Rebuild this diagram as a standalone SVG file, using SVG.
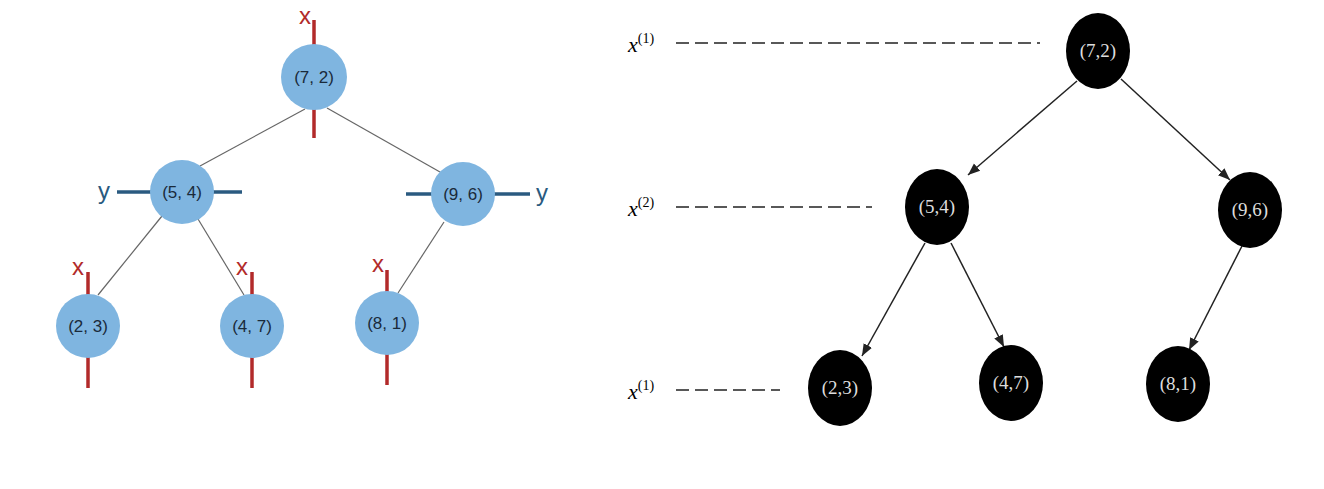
<svg xmlns="http://www.w3.org/2000/svg" width="1324" height="489" viewBox="0 0 1324 489">
<style>
.b{fill:#7fb5e0}
.bt{font-family:"Liberation Sans",Arial,sans-serif;font-size:17px;fill:#1a2a3a;text-anchor:middle}
.r{stroke:#b22a2a;stroke-width:3.5}
.rl{font-family:"Liberation Sans",Arial,sans-serif;font-size:24px;fill:#b22a2a;text-anchor:middle}
.yl{font-family:"Liberation Sans",Arial,sans-serif;font-size:24px;fill:#2a5a80;text-anchor:middle}
.bl{stroke:#2a5a80;stroke-width:3.5}
.e{stroke:#666;stroke-width:1.2}
.k{fill:#000}
.kt{font-family:"Liberation Serif","Times New Roman",serif;font-size:19px;fill:#ddd;text-anchor:middle}
.a{stroke:#222;stroke-width:1.5;fill:none;marker-end:url(#ar)}
.d{stroke:#222;stroke-width:1.5;stroke-dasharray:13,6}
.xl{font-family:"Liberation Serif","Times New Roman",serif;font-size:22px;font-style:italic;fill:#000}
.sup{font-family:"Liberation Serif","Times New Roman",serif;font-size:14px;font-style:normal;fill:#000}
</style>
<defs><marker id="ar" viewBox="0 0 10 10" refX="10" refY="5" markerWidth="8" markerHeight="8" orient="auto"><path d="M0,1 L10,5 L0,9 z" fill="#222"/></marker></defs>
<g id="connectors">
<line class="e" x1="305" y1="109" x2="200" y2="166"/>
<line class="e" x1="327" y1="108" x2="440" y2="172"/>
<line class="e" x1="162" y1="216" x2="98" y2="295"/>
<line class="e" x1="198" y1="219" x2="244" y2="295"/>
<line class="e" x1="444" y1="222" x2="398" y2="293"/>
<line class="r" x1="314" y1="20" x2="314" y2="46"/>
<line class="r" x1="314" y1="108" x2="314" y2="138"/>
<line class="bl" x1="117" y1="192" x2="152" y2="192"/>
<line class="bl" x1="212" y1="192" x2="242" y2="192"/>
<line class="bl" x1="406" y1="194" x2="432" y2="194"/>
<line class="bl" x1="494" y1="194" x2="530" y2="194"/>
<line class="r" x1="88" y1="272" x2="88" y2="295"/>
<line class="r" x1="88" y1="357" x2="88" y2="388"/>
<line class="r" x1="252" y1="272" x2="252" y2="295"/>
<line class="r" x1="252" y1="357" x2="252" y2="388"/>
<line class="r" x1="387" y1="270" x2="387" y2="292"/>
<line class="r" x1="387" y1="354" x2="387" y2="385"/>
<line class="a" x1="1077" y1="81" x2="968" y2="175"/>
<line class="a" x1="1121" y1="79" x2="1230" y2="180"/>
<line class="a" x1="925" y1="243" x2="862" y2="356"/>
<line class="a" x1="951" y1="243" x2="1004" y2="347"/>
<line class="a" x1="1242" y1="246" x2="1189" y2="350"/>
<line class="d" x1="676" y1="43" x2="1040" y2="43"/>
<line class="d" x1="676" y1="207" x2="872" y2="207"/>
<line class="d" x1="676" y1="390" x2="780" y2="390"/>
</g>
<text class="rl" x="305" y="24">x</text>
<text class="yl" x="104" y="199">y</text>
<text class="yl" x="542" y="201">y</text>
<text class="rl" x="78" y="275">x</text>
<text class="rl" x="242" y="275">x</text>
<text class="rl" x="378" y="272">x</text>
<g id="n72"><circle class="b" cx="314" cy="77" r="33"/><text class="bt" x="314" y="83">(7, 2)</text></g>
<g id="n54"><circle class="b" cx="182" cy="192" r="32"/><text class="bt" x="182" y="198">(5, 4)</text></g>
<g id="n96"><circle class="b" cx="463" cy="194" r="32"/><text class="bt" x="463" y="200">(9, 6)</text></g>
<g id="n23"><circle class="b" cx="88" cy="326" r="32"/><text class="bt" x="88" y="332">(2, 3)</text></g>
<g id="n47"><circle class="b" cx="252" cy="326" r="32"/><text class="bt" x="252" y="332">(4, 7)</text></g>
<g id="n81"><circle class="b" cx="387" cy="323" r="32"/><text class="bt" x="387" y="329">(8, 1)</text></g>
<g id="k72"><ellipse class="k" cx="1098" cy="51" rx="32" ry="38"/><text class="kt" x="1098" y="57">(7,2)</text></g>
<g id="k54"><ellipse class="k" cx="937" cy="207" rx="32" ry="38"/><text class="kt" x="937" y="213">(5,4)</text></g>
<g id="k96"><ellipse class="k" cx="1250" cy="210" rx="32" ry="38"/><text class="kt" x="1250" y="216">(9,6)</text></g>
<g id="k23"><ellipse class="k" cx="840" cy="388" rx="32" ry="38"/><text class="kt" x="840" y="394">(2,3)</text></g>
<g id="k47"><ellipse class="k" cx="1011" cy="383" rx="32" ry="38"/><text class="kt" x="1011" y="389">(4,7)</text></g>
<g id="k81"><ellipse class="k" cx="1178" cy="384" rx="32" ry="38"/><text class="kt" x="1178" y="390">(8,1)</text></g>
<text class="xl" x="628" y="52">x<tspan class="sup" dy="-9">(1)</tspan></text>
<text class="xl" x="628" y="216">x<tspan class="sup" dy="-9">(2)</tspan></text>
<text class="xl" x="628" y="399">x<tspan class="sup" dy="-9">(1)</tspan></text>
</svg>
